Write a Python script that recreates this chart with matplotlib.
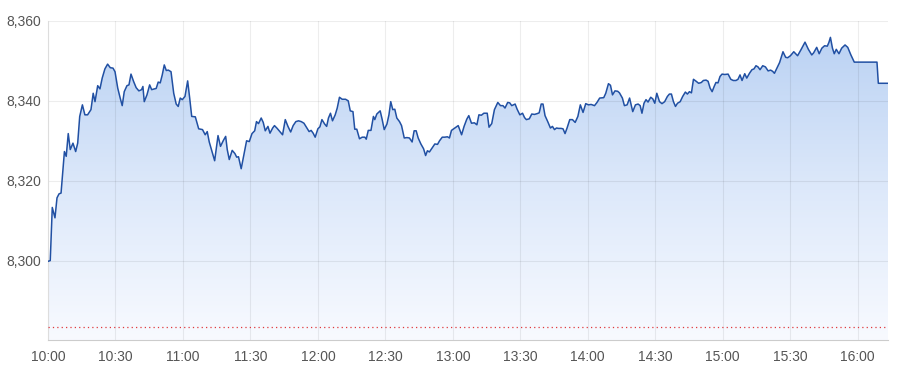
import numpy as np
import matplotlib
matplotlib.use("Agg")
import matplotlib.pyplot as plt
from matplotlib.colors import LinearSegmentedColormap
from matplotlib.patches import Polygon

plt.rcParams['font.family'] = ['Liberation Sans', 'DejaVu Sans']

# minutes after 10:00
minutes = [0, 1.0, 1.9, 3.1, 4.0, 4.9, 5.8, 7.3, 8.1, 9.0, 9.9, 11.1, 12.3, 13.2, 14.1, 15.3,
           16.4, 17.6, 19.1, 20.1, 20.9, 22.1, 23.1, 24.1, 25.3, 26.5, 27.7, 28.9, 29.8, 31.0,
           32.1, 33.0, 33.9, 35.1, 36.0, 36.9, 38.1, 39.2, 40.4, 41.6, 42.2, 42.8, 44.0, 45.2,
           46.1, 47.3, 48.1, 49.0, 49.9, 50.8, 51.7, 52.6, 53.5, 54.7, 55.9, 57.0, 57.9, 58.8,
           59.7, 60.9, 62.1, 63.0, 63.9, 65.5, 67.0, 68.7, 69.9, 70.8, 71.7, 72.9, 74.1, 75.6,
           76.7, 77.9, 79.0, 79.7, 80.6, 81.9, 83.1, 83.9, 84.7, 85.9, 87.1, 88.3, 89.5, 90.7,
           91.9, 92.7, 93.6, 94.8, 95.7, 96.6, 97.8, 98.7, 99.9, 100.7, 101.9, 103.1, 104.3,
           105.5, 106.7, 107.9, 109.0, 110.2, 111.4, 112.6, 113.8, 115.0, 116.1, 117.0, 117.9,
           118.8, 120.0, 120.9, 121.8, 123.0, 123.9, 124.7, 125.6, 126.5, 127.7, 128.6, 129.6,
           130.8, 132.3, 133.5, 134.4, 135.6, 136.4, 137.3, 138.5, 139.7, 140.9, 141.5, 142.4,
           143.6, 144.7, 145.3, 146.2, 147.7, 148.6, 149.5, 150.7, 151.6, 152.4, 153.3, 154.2,
           155.1, 156.3, 157.2, 158.4, 159.6, 160.7, 161.9, 162.8, 163.7, 164.6, 165.8, 167.0,
           167.9, 168.7, 169.6, 170.8, 172.0, 173.2, 174.1, 175.3, 176.4, 177.6, 178.5, 179.4,
           180.9, 182.4, 183.9, 185.0, 186.2, 187.1, 188.3, 189.6, 190.7, 191.6, 192.7, 193.8,
           195.3, 196.1, 197.3, 198.5, 200.0, 201.2, 202.3, 203.2, 204.4, 205.3, 206.2, 207.7,
           208.6, 209.8, 211.0, 211.9, 212.7, 214.0, 215.1, 216.3, 217.5, 218.4, 219.3, 220.1,
           221.0, 222.2, 223.4, 224.3, 225.2, 226.1, 227.0, 228.1, 229.0, 229.9, 230.8, 232.0,
           233.2, 234.4, 235.6, 236.7, 237.9, 239.1, 240.3, 241.5, 243.0, 244.1, 245.3, 247.1,
           248.0, 249.2, 250.1, 251.0, 252.1, 253.3, 254.1, 255.4, 256.3, 257.5, 258.6, 260.0,
           261.2, 262.4, 263.3, 264.1, 265.0, 265.9, 266.8, 268.0, 268.9, 269.8, 270.7, 271.9,
           273.0, 274.2, 275.4, 276.3, 277.2, 278.1, 279.0, 279.9, 281.1, 282.2, 283.4, 284.3,
           285.2, 286.1, 287.0, 288.2, 289.3, 290.5, 291.4, 292.6, 293.5, 294.4, 295.3, 296.2,
           297.0, 297.9, 298.8, 299.7, 300.9, 302.4, 303.6, 304.7, 305.9, 306.8, 307.7, 308.6,
           309.8, 310.7, 311.9, 313.0, 313.9, 314.8, 315.7, 316.6, 317.8, 319.0, 320.2, 321.3,
           322.2, 323.0, 324.1, 325.3, 326.8, 328.0, 328.9, 330.1, 331.6, 333.3, 334.8, 336.6,
           338.1, 339.6, 340.4, 341.8, 342.9, 344.1, 345.3, 346.5, 347.2, 347.9, 348.8, 349.6,
           350.5, 351.7, 352.9, 354.4, 355.6, 357.0, 358.5, 368.6, 369.2, 373.5]

prices = [8299.8, 8300.0, 8313.3, 8310.7, 8315.7, 8316.7, 8316.9, 8327.3, 8326.1, 8331.8, 8327.8,
          8329.4, 8327.3, 8329.4, 8336.1, 8339.0, 8336.5, 8336.5, 8337.8, 8341.9, 8339.8, 8343.8,
          8343.0, 8345.7, 8348.0, 8349.2, 8348.3, 8348.2, 8347.3, 8343.2, 8340.7, 8338.8, 8342.3,
          8343.8, 8344.0, 8346.7, 8344.8, 8343.3, 8342.5, 8342.8, 8343.6, 8339.8, 8341.5, 8344.0,
          8342.8, 8343.0, 8343.1, 8344.7, 8344.5, 8346.5, 8349.0, 8347.6, 8347.7, 8347.3, 8341.9,
          8339.2, 8338.6, 8340.7, 8340.3, 8341.1, 8345.0, 8340.7, 8336.1, 8336.0, 8333.0, 8332.8,
          8331.5, 8332.3, 8329.7, 8327.3, 8325.0, 8331.3, 8328.6, 8330.0, 8331.1, 8327.8, 8325.3,
          8327.6, 8326.8, 8325.9, 8326.0, 8323.0, 8326.5, 8330.0, 8329.8, 8331.8, 8332.5, 8334.8,
          8334.3, 8335.7, 8334.6, 8332.5, 8333.6, 8331.9, 8333.2, 8333.8, 8333.1, 8332.3, 8331.5,
          8335.3, 8333.6, 8332.2, 8333.8, 8334.8, 8335.0, 8334.8, 8334.4, 8333.3, 8332.3, 8332.6,
          8331.9, 8330.9, 8333.0, 8333.5, 8335.3, 8334.2, 8333.6, 8335.7, 8336.9, 8335.0, 8336.5,
          8338.2, 8340.9, 8340.4, 8340.4, 8340.0, 8337.5, 8337.3, 8332.9, 8332.9, 8330.5, 8330.9,
          8330.9, 8330.4, 8332.6, 8332.6, 8336.1, 8335.3, 8336.7, 8337.5, 8335.3, 8332.8, 8334.2,
          8336.5, 8339.8, 8337.8, 8337.9, 8335.7, 8334.8, 8333.8, 8330.7, 8330.8, 8330.7, 8329.7,
          8332.5, 8332.5, 8330.7, 8329.2, 8328.0, 8326.3, 8327.5, 8327.2, 8328.2, 8329.2, 8329.1,
          8330.0, 8330.9, 8330.9, 8331.0, 8330.7, 8332.6, 8333.2, 8333.8, 8331.5, 8333.6, 8335.4,
          8336.3, 8334.4, 8334.5, 8334.0, 8336.5, 8336.4, 8336.9, 8336.9, 8333.4, 8334.3, 8337.8,
          8339.6, 8338.8, 8338.8, 8338.2, 8339.6, 8339.5, 8338.8, 8339.2, 8337.9, 8336.5, 8336.9,
          8335.8, 8335.3, 8335.5, 8336.7, 8336.6, 8336.8, 8337.0, 8339.2, 8339.2, 8336.3, 8334.8,
          8333.2, 8333.6, 8332.8, 8333.2, 8333.1, 8333.1, 8333.0, 8331.8, 8333.2, 8335.3, 8335.3,
          8334.6, 8336.1, 8339.0, 8337.1, 8339.3, 8339.0, 8339.1, 8338.8, 8339.6, 8340.7, 8340.8,
          8341.9, 8344.3, 8343.9, 8341.5, 8342.5, 8342.4, 8342.0, 8340.7, 8338.8, 8339.0, 8340.7,
          8337.3, 8339.0, 8339.2, 8338.8, 8336.9, 8339.4, 8340.3, 8339.7, 8340.9, 8340.5, 8339.4,
          8341.9, 8339.8, 8339.3, 8339.8, 8341.1, 8341.7, 8341.7, 8339.8, 8338.6, 8339.4, 8339.8,
          8341.1, 8342.2, 8341.7, 8342.3, 8342.0, 8345.4, 8344.9, 8344.4, 8344.6, 8345.1, 8345.2,
          8344.9, 8343.2, 8342.3, 8343.6, 8344.6, 8344.5, 8346.1, 8346.7, 8346.6, 8346.7, 8345.4,
          8345.1, 8345.1, 8345.4, 8346.5, 8345.1, 8346.8, 8345.7, 8346.9, 8347.8, 8348.0, 8348.8,
          8348.5, 8347.8, 8348.8, 8348.5, 8347.5, 8347.7, 8347.4, 8346.9, 8348.2, 8349.6, 8352.3,
          8350.9, 8350.8, 8351.3, 8352.3, 8351.3, 8352.8, 8354.7, 8352.9, 8351.5, 8352.0, 8353.4,
          8351.8, 8353.2, 8353.8, 8353.7, 8354.6, 8355.9, 8353.2, 8351.8, 8352.9, 8351.8, 8353.2,
          8354.0, 8353.4, 8351.5, 8349.7, 8349.7, 8344.4, 8344.4]

prev_close = 8283.4
y_ticks = [8300, 8320, 8340, 8360]
x_tick_labels = ['10:00', '10:30', '11:00', '11:30', '12:00', '12:30', '13:00',
                 '13:30', '14:00', '14:30', '15:00', '15:30', '16:00']

x = np.array(minutes)
y = np.array(prices)

fig = plt.figure(figsize=(9, 3.75), dpi=100)
ax = fig.add_axes([48 / 900, 1 - 340 / 375, (888 - 48) / 900, (340 - 21) / 375])

ymin, ymax = 8280.1, 8360
xmax = x[-1]
ax.set_xlim(0, xmax)
ax.set_ylim(ymin, ymax)

# gradient fill under the line
cmap = LinearSegmentedColormap.from_list('g', ['#f8faff', '#dce8fa', '#b9d1f3'])
grad = np.linspace(0, 1, 256).reshape(-1, 1)
im = ax.imshow(grad, cmap=cmap, aspect='auto', origin='lower',
               extent=[0, xmax, ymin, 8358], zorder=1)
verts = np.vstack([[0, ymin], np.column_stack([x, y]), [xmax, ymin]])
poly = Polygon(verts, closed=True, facecolor='none', edgecolor='none')
ax.add_patch(poly)
im.set_clip_path(poly)

# grid
for t in range(0, 361, 30):
    ax.axvline(t, color='#000000', alpha=0.07, lw=0.8, zorder=2)
for v in y_ticks:
    ax.axhline(v, color='#000000', alpha=0.07, lw=0.8, zorder=2)

ax.plot(x, y, color='#2150a3', lw=1.1, zorder=4)
ax.axhline(prev_close, color='#e0393e', lw=0.9, ls=(0, (1, 2.5)), zorder=3)

ax.set_yticks(y_ticks)
ax.set_yticklabels([f'{v:,}' for v in y_ticks])
ax.set_xticks(list(range(0, 361, 30)))
ax.set_xticklabels(x_tick_labels)
ax.tick_params(axis='both', length=0, labelsize=10, colors='#555555')
ax.tick_params(axis='x', pad=7)
ax.tick_params(axis='y', pad=5)

for s in ['top', 'right']:
    ax.spines[s].set_visible(False)
ax.spines['left'].set_color('#dddddd')
ax.spines['bottom'].set_color('#cccccc')
ax.spines['left'].set_linewidth(0.8)
ax.spines['bottom'].set_linewidth(0.8)

fig.savefig('out.png', dpi=100)
